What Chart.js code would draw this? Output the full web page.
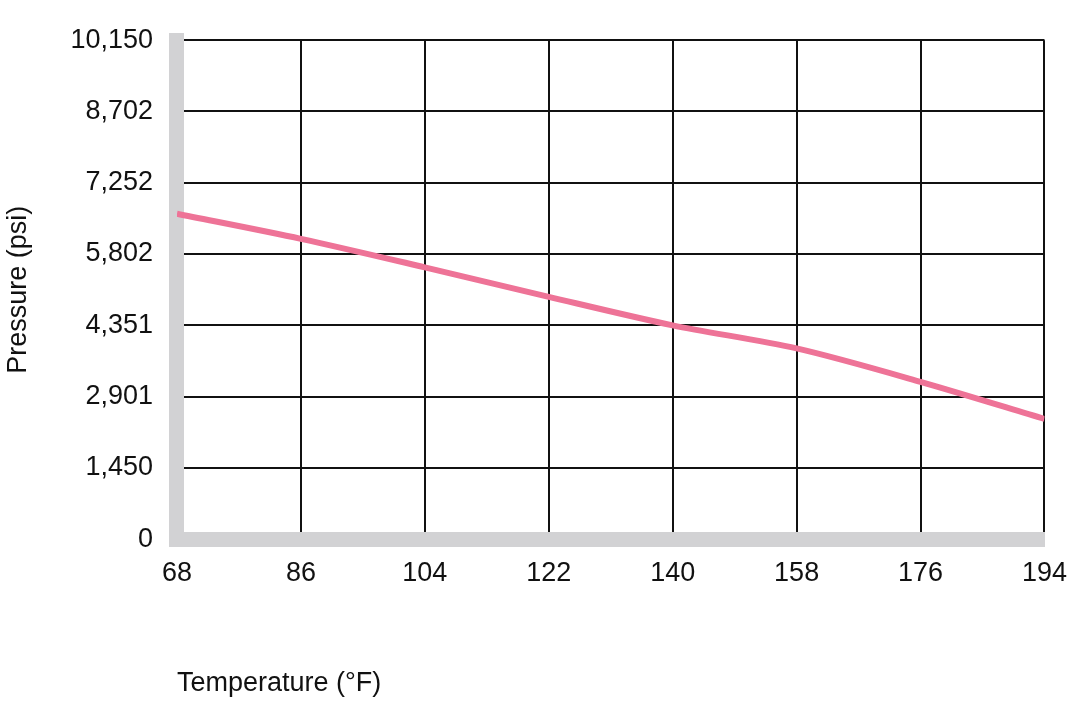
<!DOCTYPE html>
<html><head><meta charset="utf-8">
<script src="https://cdn.jsdelivr.net/npm/chart.js@4"></script>
<style>html,body{margin:0;padding:0;background:#fff}#w{width:1085px;height:706px}</style>
</head><body><div id="w"><canvas id="c" width="1085" height="706"></canvas></div>
<script>
const temperatures = [68, 86, 104, 122, 140, 158, 176, 194];
const pressures = [6620, 6110, 5530, 4930, 4350, 3880, 3200, 2445];
const yTickValues = [0, 1450, 2901, 4351, 5802, 7252, 8702, 10150];
const xTickValues = [68, 86, 104, 122, 140, 158, 176, 194];
const FONT = "'Liberation Sans', Arial, sans-serif";
new Chart(document.getElementById('c'), {
  type: 'line',
  data: { datasets: [{ data: temperatures.map((t,i)=>({x:t,y:pressures[i]})),
    borderColor:'#ee7397', borderWidth:6, pointRadius:0, tension:0.3, fill:false }] },
  options: {
    responsive:false, animation:false, maintainAspectRatio:false,
    layout:{ padding:{ left:2, right:28, top:4, bottom:0 } },
    plugins:{ legend:{display:false}, tooltip:{enabled:false} },
    scales:{
      x:{ type:'linear', min:68, max:194,
        afterBuildTicks:a=>{a.ticks=xTickValues.map(v=>({value:v}));},
        grid:{ color:'#111', lineWidth:2, drawTicks:false },
        border:{ color:'#d2d2d4', width:15 },
        ticks:{ color:'#111', font:{family:FONT,size:27}, padding:18, maxRotation:0 },
        title:{ display:true, text:'Temperature (°F)', align:'start', color:'#111',
          font:{family:FONT,size:27}, padding:{top:60,bottom:6} } },
      y:{ min:0, max:10150,
        afterBuildTicks:a=>{a.ticks=yTickValues.map(v=>({value:v}));},
        grid:{ color:'#111', lineWidth:2, drawTicks:false },
        border:{ color:'#d2d2d4', width:15 },
        ticks:{ color:'#111', font:{family:FONT,size:27}, padding:24,
          callback:v=>v.toLocaleString('en-US') },
        title:{ display:true, text:'Pressure (psi)', color:'#111',
          font:{family:FONT,size:27}, padding:{top:0,bottom:12} } }
    }
  }
});
</script></body></html>
